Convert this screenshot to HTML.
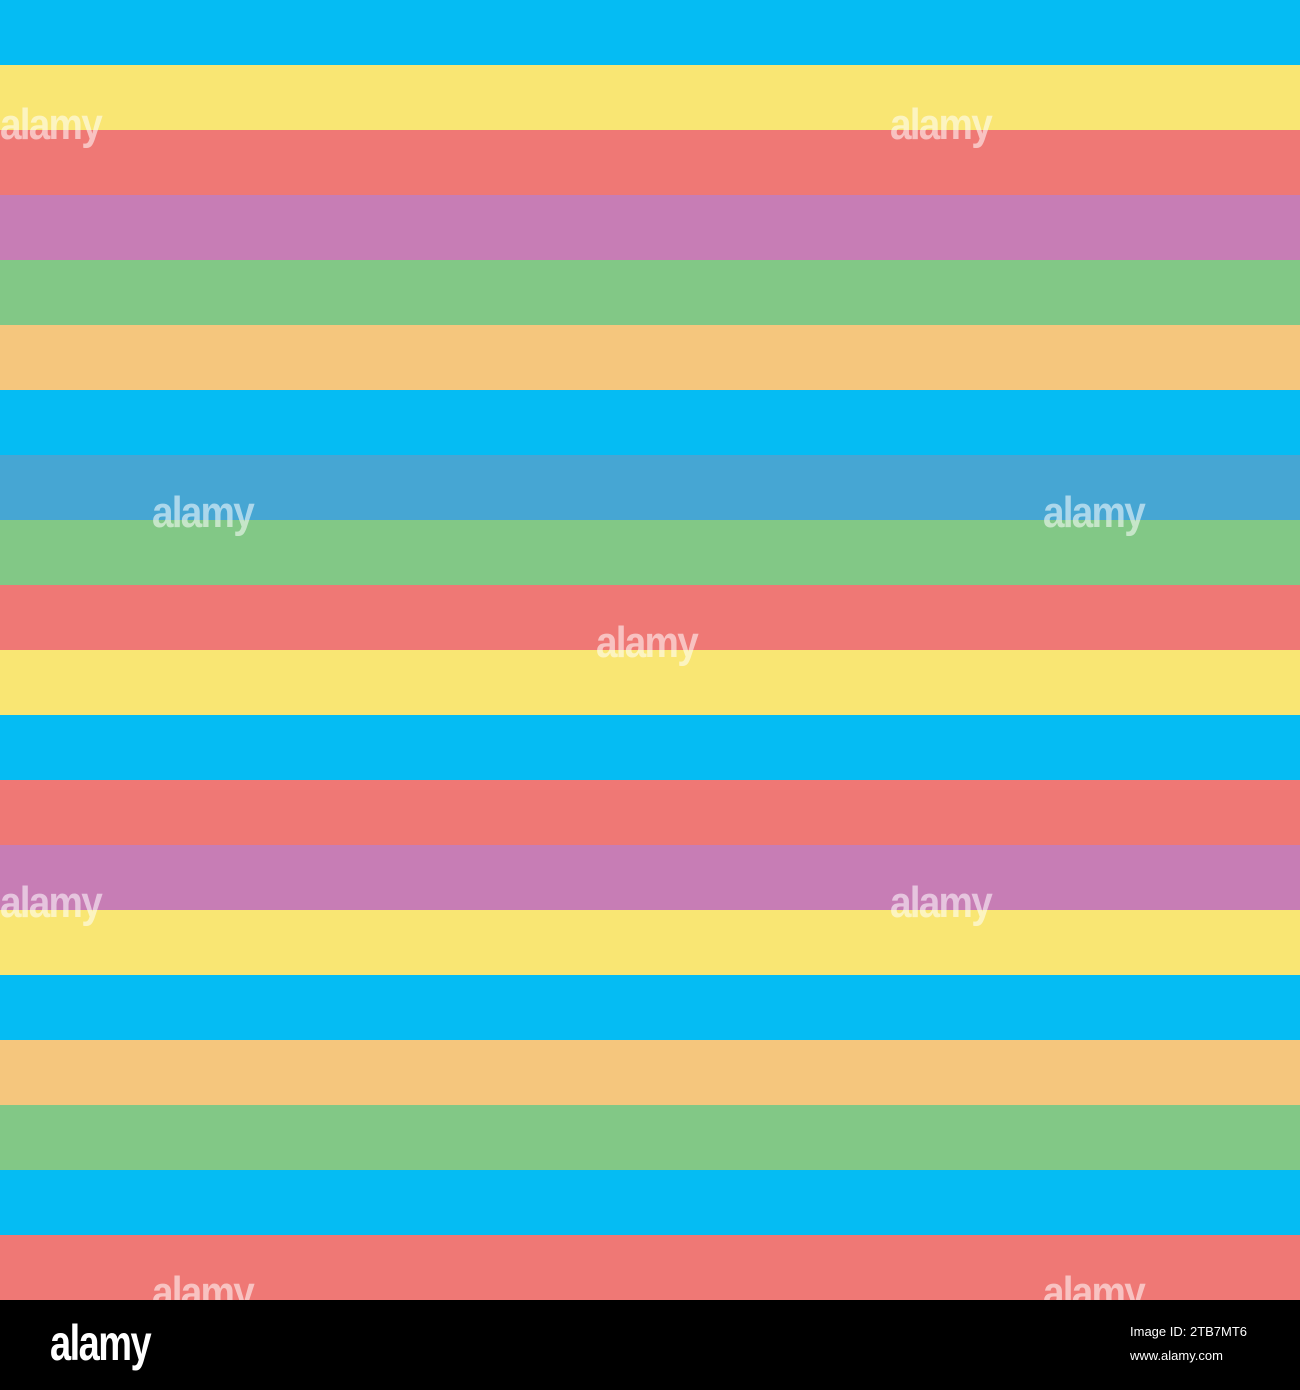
<!DOCTYPE html>
<html><head><meta charset="utf-8"><style>
html,body{margin:0;padding:0;width:1300px;height:1390px;overflow:hidden;background:#000;}
.s{position:absolute;left:0;width:1300px;height:65px;}
.wm{position:absolute;font-family:"Liberation Sans",sans-serif;font-weight:bold;font-size:44px;color:rgba(255,255,255,0.55);letter-spacing:-2px;transform:scaleX(0.88);transform-origin:left top;}
#bar{position:absolute;left:0;top:1300px;width:1300px;height:90px;background:#000;}
</style></head><body>
<div class="s" style="top:0;background:#05BCF3"></div>
<div class="s" style="top:65px;background:#F9E673"></div>
<div class="s" style="top:130px;background:#EF7875"></div>
<div class="s" style="top:195px;background:#C77DB5"></div>
<div class="s" style="top:260px;background:#82C886"></div>
<div class="s" style="top:325px;background:#F5C67D"></div>
<div class="s" style="top:390px;background:#05BCF3"></div>
<div class="s" style="top:455px;background:#46A6D3"></div>
<div class="s" style="top:520px;background:#82C886"></div>
<div class="s" style="top:585px;background:#EF7875"></div>
<div class="s" style="top:650px;background:#F9E673"></div>
<div class="s" style="top:715px;background:#05BCF3"></div>
<div class="s" style="top:780px;background:#EF7875"></div>
<div class="s" style="top:845px;background:#C77DB5"></div>
<div class="s" style="top:910px;background:#F9E673"></div>
<div class="s" style="top:975px;background:#05BCF3"></div>
<div class="s" style="top:1040px;background:#F5C67D"></div>
<div class="s" style="top:1105px;background:#82C886"></div>
<div class="s" style="top:1170px;background:#05BCF3"></div>
<div class="s" style="top:1235px;background:#EF7875"></div>
<div class="wm" style="left:0;top:100px">alamy</div>
<div class="wm" style="left:890px;top:100px">alamy</div>
<div class="wm" style="left:152px;top:488px">alamy</div>
<div class="wm" style="left:1043px;top:488px">alamy</div>
<div class="wm" style="left:596px;top:618px">alamy</div>
<div class="wm" style="left:0;top:878px">alamy</div>
<div class="wm" style="left:890px;top:878px">alamy</div>
<div class="wm" style="left:152px;top:1268px">alamy</div>
<div class="wm" style="left:1043px;top:1268px">alamy</div>
<div id="bar">
<div style="position:absolute;left:50px;top:14px;font-family:'Liberation Sans',sans-serif;font-weight:bold;font-size:50px;color:#fff;letter-spacing:-2px;transform:scaleX(0.76);transform-origin:left top;">alamy</div>
<div style="position:absolute;left:1130px;top:24px;font-family:'Liberation Sans',sans-serif;font-size:13px;color:#fff;">Image ID: 2TB7MT6</div>
<div style="position:absolute;left:1130px;top:48px;font-family:'Liberation Sans',sans-serif;font-size:13px;color:#fff;">www.alamy.com</div>
</div>
</body></html>
